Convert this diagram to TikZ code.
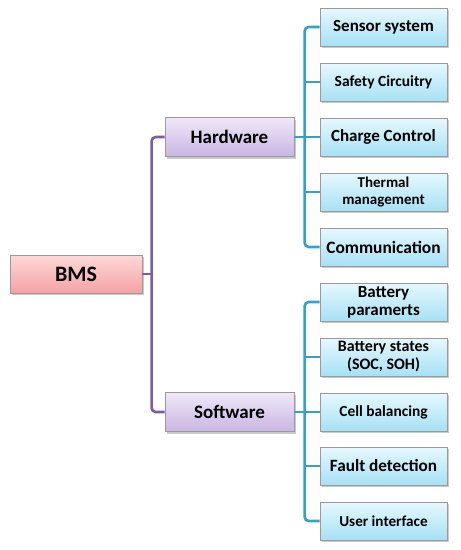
\documentclass[tikz,border=0pt]{standalone}
\usepackage{fontspec}
\setmainfont{Carlito}
\usetikzlibrary{shadows}
\definecolor{pinkT}{HTML}{FFD8D8}
\definecolor{pinkB}{HTML}{F4A2A4}
\definecolor{lavT}{HTML}{EFE8F8}
\definecolor{lavB}{HTML}{C8B6E2}
\definecolor{cyT}{HTML}{E6F8FE}
\definecolor{cyB}{HTML}{A6E1F5}
\definecolor{purp}{HTML}{7D5BA6}
\definecolor{tealc}{HTML}{33A2C6}
\definecolor{bordc}{HTML}{9A9A9A}
\tikzset{
  basebox/.style={draw=bordc, line width=0.7pt, inner sep=0pt, align=center,
    font=\bfseries, drop shadow={shadow xshift=1.5pt, shadow yshift=-2pt, opacity=0.35, fill=black!60}},
  bmsbox/.style={basebox, top color=pinkT, bottom color=pinkB, minimum width=132pt, minimum height=38pt},
  midbox/.style={basebox, top color=lavT, bottom color=lavB, minimum width=129pt, minimum height=39pt},
  leafbox/.style={basebox, top color=cyT, bottom color=cyB, minimum width=127pt, minimum height=38pt},
  purpline/.style={draw=purp, line width=2.6pt, rounded corners=4pt},
  tealline/.style={draw=tealc, line width=2.6pt, rounded corners=4pt},
}
\newcommand{\fs}[1]{\fontsize{#1}{#1*1.1}\selectfont}
\begin{document}
\begin{tikzpicture}[x=1pt,y=1pt]
\useasboundingbox (0,0) rectangle (461,-550);
% nodes
\node[bmsbox, font=\bfseries\fontsize{22}{24}\selectfont] (bms) at (76,-274) {BMS};
\node[midbox, font=\bfseries\fontsize{19}{21}\selectfont] (hw) at (229.5,-137) {Hardware};
\node[midbox, font=\bfseries\fontsize{19}{21}\selectfont] (sw) at (229.5,-412) {Software};
\node[leafbox, font=\bfseries\fontsize{17}{19}\selectfont] (h1) at (383.5,-27) {Sensor system};
\node[leafbox, font=\bfseries\fontsize{15.5}{17}\selectfont] (h2) at (383.5,-82) {Safety Circuitry};
\node[leafbox, font=\bfseries\fontsize{17}{19}\selectfont] (h3) at (383.5,-137) {Charge Control};
\node[leafbox, font=\bfseries\fontsize{15}{17}\selectfont] (h4) at (383.5,-192) {Thermal\\management};
\node[leafbox, font=\bfseries\fontsize{17.4}{19}\selectfont] (h5) at (383.5,-247) {Communication};
\node[leafbox, font=\bfseries\fontsize{17}{18}\selectfont] (s1) at (383.5,-302) {Battery\\paramerts};
\node[leafbox, font=\bfseries\fontsize{16}{18}\selectfont] (s2) at (383.5,-357) {Battery states\\(SOC, SOH)};
\node[leafbox, font=\bfseries\fontsize{15.4}{17}\selectfont] (s3) at (383.5,-412) {Cell balancing};
\node[leafbox, font=\bfseries\fontsize{17.2}{19}\selectfont] (s4) at (383.5,-466) {Fault detection};
\node[leafbox, font=\bfseries\fontsize{15.2}{17}\selectfont] (s5) at (383.5,-521) {User interface};
% purple connectors
\draw[purpline] (bms.east) -- ++(10,0);
\draw[purpline] (hw.west) -- ++(-13,0) |- (sw.west);
% teal connectors, hardware
\draw[tealline] (h1.west) -- ++(-15,0) |- (h5.west);
\draw[tealline] (h2.west) -- ++(-15,0);
\draw[tealline] (h4.west) -- ++(-15,0);
\draw[tealline] (hw.east) -- (h3.west);
% teal connectors, software
\draw[tealline] (s1.west) -- ++(-15,0) |- (s5.west);
\draw[tealline] (s2.west) -- ++(-15,0);
\draw[tealline] (s4.west) -- ++(-15,0);
\draw[tealline] (sw.east) -- (s3.west);
\end{tikzpicture}
\end{document}
